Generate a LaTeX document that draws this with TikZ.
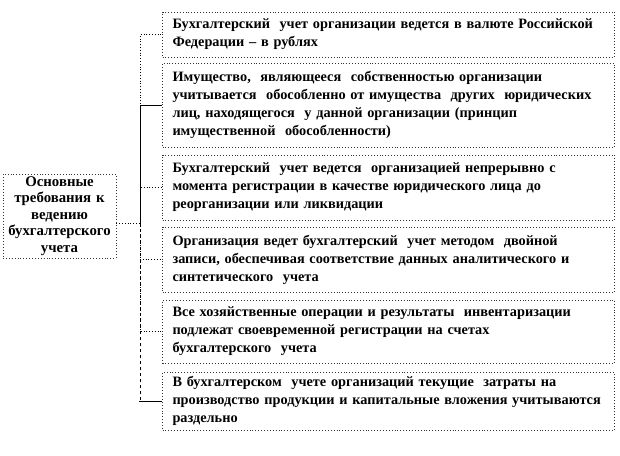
\documentclass[tikz,border=0pt]{standalone}
\usepackage{fontspec}
\setmainfont{Liberation Serif}
\usetikzlibrary{positioning}

\tikzset{
  reqbox/.style={draw=black!80, dotted, line width=0.9pt, fill=white,
    minimum width=451pt, text width=432pt, align=left, inner xsep=10pt, inner ysep=0pt,
    font=\fontsize{14.3}{18}\selectfont\bfseries},
  mainbox/.style={draw=black!80, dotted, line width=0.9pt, fill=white,
    minimum width=113pt, minimum height=84pt, text width=111pt, align=center,
    inner sep=1pt, font=\fontsize{14.8}{16.5}\selectfont\bfseries},
  link/.style={line width=0.8pt}
}

\begin{document}
\begin{tikzpicture}[x=1pt,y=-1pt]
    \useasboundingbox (0,0) rectangle (620,455);
    % main box
    \node[mainbox] (req) at (59.5,216) {Основные\\ требования к\\ ведению\\ бухгалтерского\\ учета};
    % requirements
    \node[reqbox, minimum height=45pt] (b1) at (388.5,34.5)
      {Бухгалтерский \ учет организации ведется в валюте Российской\\ Федерации – в рублях};
    \node[reqbox, minimum height=84pt] (b2) at (388.5,105)
      {Имущество, \ являющееся \ собственностью организации\\ учитывается \ обособленно от имущества \ других \ юридических\\ лиц, находящегося \ у данной организации (принцип\\ имущественной \ обособленности)};
    \node[reqbox, minimum height=65pt] (b3) at (388.5,187.5)
      {Бухгалтерский \ учет ведется \ организацией непрерывно с\\ момента регистрации в качестве юридического лица до\\ реорганизации или ликвидации};
    \node[reqbox, minimum height=65pt] (b4) at (388.5,259.5)
      {Организация ведет бухгалтерский \ учет методом \ двойной\\ записи, обеспечивая соответствие данных аналитического и\\ синтетического \ учета};
    \node[reqbox, minimum height=63pt] (b5) at (388.5,331.5)
      {Все хозяйственные операции и результаты \ инвентаризации\\ подлежат своевременной регистрации на счетах\\ бухгалтерского \ учета};
    \node[reqbox, minimum height=58pt] (b6) at (388.5,401)
      {В бухгалтерском \ учете организаций текущие \ затраты на\\ производство продукции и капитальные вложения учитываются\\ раздельно};
    %
    \coordinate (trunk) at (140,223);
    \draw[link, dotted] (req.east |- trunk) -- (trunk) |- (b1.west);
    \draw[link] (trunk) |- (b2.west);
    \draw[link, dotted] (trunk) |- (b3.west);
    \draw[link, dotted] (trunk) |- (b4.west);
    \draw[link, dotted] (trunk) |- (b5.west);
    \draw[link, dashed] (trunk) |- (b6.west);
    \draw[link] (b6.west) -- ++(-23,0);
\end{tikzpicture}
\end{document}
